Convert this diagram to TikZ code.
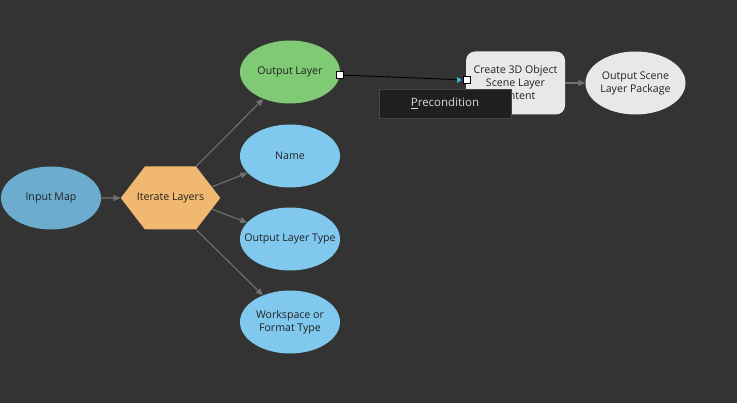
\documentclass[tikz,border=0pt]{standalone}
\usepackage{fontspec}
\setmainfont{Open Sans}
\usetikzlibrary{shapes.geometric,shapes.symbols,arrows.meta}
\definecolor{bg}{HTML}{333333}
\definecolor{inmap}{HTML}{6CACCE}
\definecolor{iter}{HTML}{F0B870}
\definecolor{outgreen}{HTML}{80CA75}
\definecolor{varblue}{HTML}{80C8EE}
\definecolor{toolgray}{HTML}{E8E8E8}
\definecolor{edgegray}{HTML}{707070}
\definecolor{tipbg}{HTML}{1F1F1F}
\definecolor{tipborder}{HTML}{454545}
\definecolor{txt}{HTML}{222222}
\definecolor{linkcyan}{HTML}{3FB0D8}
\tikzset{
  base/.style={inner sep=0pt, font=\fontsize{10.6}{13}\selectfont, text=txt, align=center},
  oval/.style={base, ellipse, inner xsep=-14pt, inner ysep=0pt, minimum width=100pt, minimum height=63pt},
  edge/.style={draw=edgegray, line width=1.1pt, -{Triangle[length=7pt,width=6pt]}},
  handle/.style={draw=black, fill=white, line width=0.6pt, minimum size=7pt, inner sep=0pt},
}
\begin{document}
\begin{tikzpicture}[x=1pt,y=-1pt]
\useasboundingbox (0,0) rectangle (737,403);
\fill[bg] (0,0) rectangle (737,403);

\node[oval, fill=inmap] (inmap) at (51,198) {Input Map};
\node[base, signal, signal to=west and east, signal pointer angle=105, inner xsep=-8pt, fill=iter, minimum width=50pt, minimum height=63pt] (iter) at (170.5,198) {Iterate Layers};
\node[oval, fill=outgreen] (outl) at (290,72) {Output Layer};
\node[oval, fill=varblue] (name) at (290,156) {Name};
\node[oval, fill=varblue] (olt) at (290,239) {Output Layer Type};
\node[oval, fill=varblue] (wft) at (290,322) {Workspace or\\Format Type};
\node[base, draw=none, fill=toolgray, rounded corners=9pt, minimum width=99pt, minimum height=63pt] (create) at (515.5,83) {Create 3D Object\\Scene Layer\\Content};
\node[oval, fill=toolgray] (pkg) at (635.5,83) {Output Scene\\Layer Package};

\draw[edge] (inmap) -- (iter);
\draw[edge] (iter.north east) -- (outl);
\draw[edge] (iter.15) -- (name);
\draw[edge] (iter.-15) -- (olt);
\draw[edge] (iter.south east) -- (wft);
\draw[edge] (create) -- (pkg);

\coordinate (p1) at (340,75);
\coordinate (p2) at (467,80);
\draw[black, line width=0.9pt] (p1) -- (p2);
\fill[linkcyan] (462,80) -- (457,77) -- (457,83) -- cycle;
\node[handle] (h1) at (p1) {};
\node[handle] (h2) at (p2) {};

\node[base, fill=tipbg, draw=tipborder, line width=0.6pt, minimum width=132pt, minimum height=29pt, text=white!85!black, font=\fontsize{11.5}{13}\selectfont] (tip) at (445,103.5) {\underline{P}recondition};
\end{tikzpicture}
\end{document}
